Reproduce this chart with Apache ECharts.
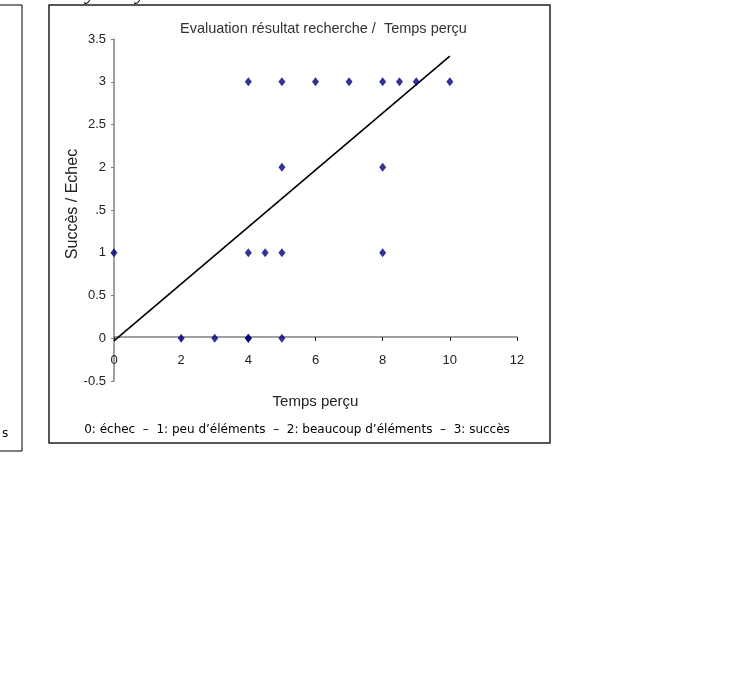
<!DOCTYPE html>
<html>
<head>
<meta charset="utf-8">
<script src="https://cdn.jsdelivr.net/npm/echarts@6/dist/echarts.min.js"></script>
<style>
  html, body { margin: 0; padding: 0; background: #fff; }
  #chart { width: 729px; height: 681px; }
</style>
</head>
<body>
<div id="chart"></div>
<script>
// points (temps perçu, succès/échec)
var tempsX  = [0, 2, 3, 4, 4, 5, 4, 4.5, 5, 8, 5, 8, 4, 5, 6, 7, 8, 8.5, 9, 10];
var succesY = [1, 0, 0, 0, 0, 0, 1, 1,   1, 1, 2, 2, 3, 3, 3, 3, 3, 3,   3, 3];
// trend line ends
var trendX = [0, 10];
var trendY = [-0.03, 3.3];
var yTicks = [-0.5, 0, 0.5, 1, 1.5, 2, 2.5, 3, 3.5];
var xTicks = [0, 2, 4, 6, 8, 10, 12];

var points = tempsX.map(function(x, i) { return [x, succesY[i]]; });
var trend = trendX.map(function(x, i) { return [x, trendY[i]]; });

var axisGrey = '#808080';
var chart = echarts.init(document.getElementById('chart'));
chart.setOption({
  backgroundColor: '#fff',
  animation: false,
  title: {
    text: 'Evaluation résultat recherche /  Temps perçu',
    left: 175,
    top: 16,
    textStyle: { fontFamily: 'Liberation Sans', fontSize: 14.5, fontWeight: 'normal', color: '#333' }
  },
  grid: { left: 114, right: 212, top: 39, bottom: 300 },
  xAxis: {
    type: 'value',
    min: xTicks[0],
    max: xTicks[xTicks.length - 1],
    interval: 2,
    // x axis crosses y at 0 (grid bottom is -0.5, 44px below)
    offset: -44,
    name: 'Temps perçu',
    nameLocation: 'middle',
    nameGap: 57,
    nameTextStyle: { fontFamily: 'Liberation Sans', fontSize: 15, color: '#222' },
    axisLine: { show: true, onZero: false, lineStyle: { color: axisGrey, width: 1.5 } },
    axisTick: { show: true, length: 4, lineStyle: { color: '#222' } },
    axisLabel: { margin: 17, fontFamily: 'Liberation Sans', fontSize: 13, color: '#222' },
    splitLine: { show: false }
  },
  yAxis: {
    type: 'value',
    min: yTicks[0],
    max: yTicks[yTicks.length - 1],
    interval: 0.5,
    axisLine: { show: true, onZero: false, lineStyle: { color: axisGrey, width: 1.5 } },
    axisTick: { show: true, length: 3, lineStyle: { color: axisGrey } },
    axisLabel: {
      margin: 8,
      fontFamily: 'Liberation Sans',
      fontSize: 13,
      color: '#222',
      formatter: function(v) {
        if (v === 1.5) return '.5';   // the "1" is hidden under the axis title
        return String(v);
      }
    },
    splitLine: { show: false }
  },
  graphic: [
    { type: 'rect', shape: { x: -10, y: 5, width: 32, height: 446 },
      style: { fill: 'none', stroke: '#000', lineWidth: 1 } },
    { type: 'rect', shape: { x: 49, y: 5, width: 501, height: 438 },
      style: { fill: 'none', stroke: '#222', lineWidth: 1.5 }, z: -1 },
    { type: 'text', x: 2, y: 434,
      style: { text: 's', font: '12px "DejaVu Sans"', fill: '#000', verticalAlign: 'middle' } },
    { type: 'text', x: 86, y: 4,
      style: { text: 'y', font: 'italic 22px "Liberation Serif"', fill: '#000', verticalAlign: 'bottom' } },
    { type: 'text', x: 136, y: 4,
      style: { text: 'y', font: 'italic 22px "Liberation Serif"', fill: '#000', verticalAlign: 'bottom' } },
    { type: 'text', x: 73, y: 204, rotation: Math.PI / 2,
      style: { text: 'Succès / Echec', font: '16px "Liberation Sans"', fill: '#222',
               align: 'center', verticalAlign: 'middle' } },
    { type: 'text', x: 297, y: 430,
      style: { text: '0: échec  –  1: peu d\u2019éléments  –  2: beaucoup d\u2019éléments  –  3: succès',
               font: '12px "DejaVu Sans"', fill: '#000', align: 'center', verticalAlign: 'middle' } }
  ],
  series: [
    {
      type: 'line',
      data: trend,
      showSymbol: false,
      lineStyle: { color: '#000', width: 1.6 },
      z: 2
    },
    {
      type: 'scatter',
      data: points,
      symbol: 'diamond',
      symbolSize: [7, 9],
      itemStyle: { color: '#00007a' },
      z: 3
    }
  ]
});
</script>
</body>
</html>
